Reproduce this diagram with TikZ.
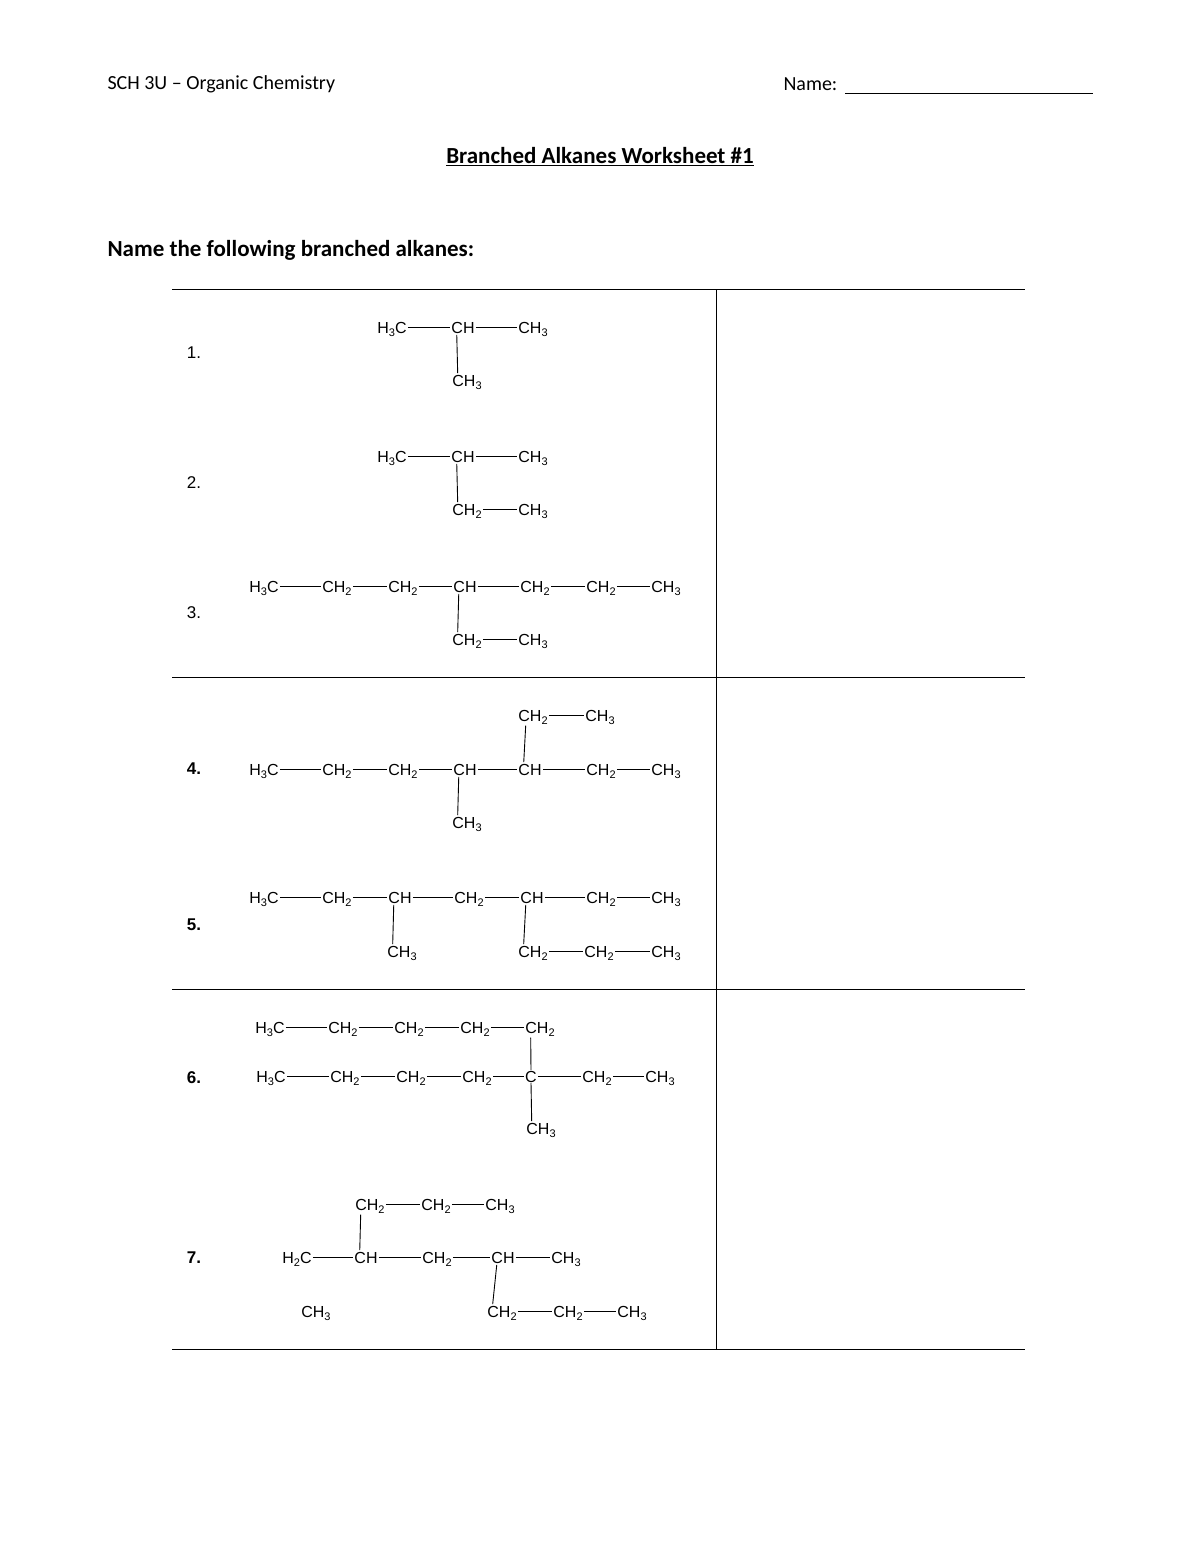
\documentclass[tikz,border=0pt]{standalone}
\usepackage{fontspec}
\setmainfont{Liberation Sans}
\newfontfamily\calfont{Carlito}
\usetikzlibrary{calc}
\newcommand{\sbs}[1]{\raisebox{-3pt}{\fontsize{11}{11}\selectfont #1}}
\newcommand{\bd}[2]{\draw[bond] ($(#1.base east)+(0.5,-5.5)$) -- ($(#2.base west)+(-0.5,-5.5)$);}
\tikzset{g/.style={inner sep=0.5pt,font=\fontsize{16}{16}\selectfont},
bond/.style={line width=0.9pt},rule/.style={line width=1pt},
num/.style={font=\fontsize{17}{17}\selectfont}}
\begin{document}
\begin{tikzpicture}[x=1pt,y=-1pt]
\useasboundingbox (0,0) rectangle (1200,1553);
\fill[white] (0,0) rectangle (1200,1553);
\node[anchor=west,font=\calfont\fontsize{20}{20}\selectfont] (hd) at (104,84) {SCH 3U – Organic Chemistry};
\node[anchor=west,font=\calfont\fontsize{20}{20}\selectfont] (nm) at (780,84) {Name:};
\coordinate (u1) at (845,93); \coordinate (u2) at (1093,93);
\draw[line width=0.8pt] (u1) -- (u2);
\node[font=\calfont\bfseries\fontsize{23}{23}\selectfont] (tt) at (600,157) {\underline{Branched Alkanes Worksheet \#1}};
\node[anchor=west,font=\calfont\bfseries\fontsize{23}{23}\selectfont] (ins) at (104,250) {Name the following branched alkanes:};
% table
\coordinate (l1) at (172,289); \coordinate (r1) at (1025,289);
\coordinate (l2) at (172,677); \coordinate (r2) at (1025,677);
\coordinate (l3) at (172,989); \coordinate (r3) at (1025,989);
\coordinate (l4) at (172,1349); \coordinate (r4) at (1025,1349);
\coordinate (vt) at (716,289); \coordinate (vb) at (716,1349);
\draw[rule] (l1)--(r1) (l2)--(r2) (l3)--(r3) (l4)--(r4) (vt)--(vb);
% numbers
\node[num] (n1) at (194,353) {1.};
\node[num] (n2) at (194,483) {2.};
\node[num] (n3) at (194,613) {3.};
\node[num,font=\bfseries\fontsize{17}{17}\selectfont] (n4) at (194,769) {4.};
\node[num,font=\bfseries\fontsize{17}{17}\selectfont] (n5) at (194,925) {5.};
\node[num,font=\bfseries\fontsize{17}{17}\selectfont] (n6) at (194,1078) {6.};
\node[num,font=\bfseries\fontsize{17}{17}\selectfont] (n7) at (194,1258) {7.};
\tikzset{every node/.append style={anchor=base}}
% 1  (positions are baselines)
\node[g] (a1) at (392,333) {H\sbs{3}C};
\node[g] (a2) at (463,333) {CH};
\node[g] (a3) at (533,333) {CH\sbs{3}};
\node[g] (a4) at (467,386) {CH\sbs{3}};
\bd{a1}{a2}\bd{a2}{a3}
\draw[bond] ($(a2.south west)+(6,1)$) -- ($(a4.north west)+(6,-1)$);
% 2
\node[g] (b1) at (392,462) {H\sbs{3}C};
\node[g] (b2) at (463,462) {CH};
\node[g] (b3) at (533,462) {CH\sbs{3}};
\node[g] (b4) at (467,515) {CH\sbs{2}};
\node[g] (b5) at (533,515) {CH\sbs{3}};
\bd{b1}{b2}\bd{b2}{b3}\bd{b4}{b5}
\draw[bond] ($(b2.south west)+(6,1)$) -- ($(b4.north west)+(6,-1)$);
% 3
\node[g] (c1) at (264,592) {H\sbs{3}C};
\node[g] (c2) at (337,592) {CH\sbs{2}};
\node[g] (c3) at (403,592) {CH\sbs{2}};
\node[g] (c4) at (465,592) {CH};
\node[g] (c5) at (535,592) {CH\sbs{2}};
\node[g] (c6) at (601,592) {CH\sbs{2}};
\node[g] (c7) at (666,592) {CH\sbs{3}};
\node[g] (c8) at (467,645) {CH\sbs{2}};
\node[g] (c9) at (533,645) {CH\sbs{3}};
\bd{c1}{c2}\bd{c2}{c3}\bd{c3}{c4}\bd{c4}{c5}\bd{c5}{c6}\bd{c6}{c7}\bd{c8}{c9}
\draw[bond] ($(c4.south west)+(6,1)$) -- ($(c8.north west)+(6,-1)$);
% 4
\node[g] (d0) at (533,721) {CH\sbs{2}};
\node[g] (d00) at (600,721) {CH\sbs{3}};
\node[g] (d1) at (264,775) {H\sbs{3}C};
\node[g] (d2) at (337,775) {CH\sbs{2}};
\node[g] (d3) at (403,775) {CH\sbs{2}};
\node[g] (d4) at (465,775) {CH};
\node[g] (d5) at (530,775) {CH};
\node[g] (d6) at (601,775) {CH\sbs{2}};
\node[g] (d7) at (666,775) {CH\sbs{3}};
\node[g] (d8) at (467,828) {CH\sbs{3}};
\bd{d0}{d00}\bd{d1}{d2}\bd{d2}{d3}\bd{d3}{d4}\bd{d4}{d5}\bd{d5}{d6}\bd{d6}{d7}
\draw[bond] ($(d4.south west)+(6,1)$) -- ($(d8.north west)+(6,-1)$);
\draw[bond] ($(d0.south west)+(8,1)$) -- ($(d5.north west)+(6,-1)$);
% 5
\node[g] (e1) at (264,903) {H\sbs{3}C};
\node[g] (e2) at (337,903) {CH\sbs{2}};
\node[g] (e3) at (400,903) {CH};
\node[g] (e4) at (469,903) {CH\sbs{2}};
\node[g] (e5) at (532,903) {CH};
\node[g] (e6) at (601,903) {CH\sbs{2}};
\node[g] (e7) at (666,903) {CH\sbs{3}};
\node[g] (e8) at (402,957) {CH\sbs{3}};
\node[g] (e9) at (533,957) {CH\sbs{2}};
\node[g] (e10) at (599,957) {CH\sbs{2}};
\node[g] (e11) at (666,957) {CH\sbs{3}};
\bd{e1}{e2}\bd{e2}{e3}\bd{e3}{e4}\bd{e4}{e5}\bd{e5}{e6}\bd{e6}{e7}\bd{e9}{e10}\bd{e10}{e11}
\draw[bond] ($(e3.south west)+(6,1)$) -- ($(e8.north west)+(6,-1)$);
\draw[bond] ($(e5.south west)+(6,1)$) -- ($(e9.north west)+(6,-1)$);
% 6
\node[g] (f1) at (270,1033) {H\sbs{3}C};
\node[g] (f2) at (343,1033) {CH\sbs{2}};
\node[g] (f3) at (409,1033) {CH\sbs{2}};
\node[g] (f4) at (475,1033) {CH\sbs{2}};
\node[g] (f5) at (540,1033) {CH\sbs{2}};
\node[g] (h1) at (271,1082) {H\sbs{3}C};
\node[g] (h2) at (345,1082) {CH\sbs{2}};
\node[g] (h3) at (411,1082) {CH\sbs{2}};
\node[g] (h4) at (477,1082) {CH\sbs{2}};
\node[g] (h5) at (531,1082) {C};
\node[g] (h6) at (597,1082) {CH\sbs{2}};
\node[g] (h7) at (660,1082) {CH\sbs{3}};
\node[g] (h8) at (541,1134) {CH\sbs{3}};
\bd{f1}{f2}\bd{f2}{f3}\bd{f3}{f4}\bd{f4}{f5}
\bd{h1}{h2}\bd{h2}{h3}\bd{h3}{h4}\bd{h4}{h5}\bd{h5}{h6}\bd{h6}{h7}
\draw[bond] ($(f5.south west)+(6,1)$) -- (h5.north);
\draw[bond] (h5.south) -- ($(h8.north west)+(6,-1)$);
% 7
\node[g] (k1) at (370,1210) {CH\sbs{2}};
\node[g] (k2) at (436,1210) {CH\sbs{2}};
\node[g] (k3) at (500,1210) {CH\sbs{3}};
\node[g] (m1) at (297,1263) {H\sbs{2}C};
\node[g] (m2) at (366,1263) {CH};
\node[g] (m3) at (437,1263) {CH\sbs{2}};
\node[g] (m4) at (503,1263) {CH};
\node[g] (m5) at (566,1263) {CH\sbs{3}};
\node[g] (p1) at (316,1317) {CH\sbs{3}};
\node[g] (p2) at (502,1317) {CH\sbs{2}};
\node[g] (p3) at (568,1317) {CH\sbs{2}};
\node[g] (p4) at (632,1317) {CH\sbs{3}};
\bd{k1}{k2}\bd{k2}{k3}\bd{m1}{m2}\bd{m2}{m3}\bd{m3}{m4}\bd{m4}{m5}\bd{p2}{p3}\bd{p3}{p4}
\draw[bond] ($(k1.south west)+(6,1)$) -- ($(m2.north west)+(6,-1)$);
\draw[bond] ($(m1.south east)+(-6,1)$) -- ($(m1.south east)+(-6,1)$ |- p1.north);
\draw[bond] ($(m4.south west)+(6,1)$) -- ($(p2.north west)+(6,-1)$);
\end{tikzpicture}
\end{document}
